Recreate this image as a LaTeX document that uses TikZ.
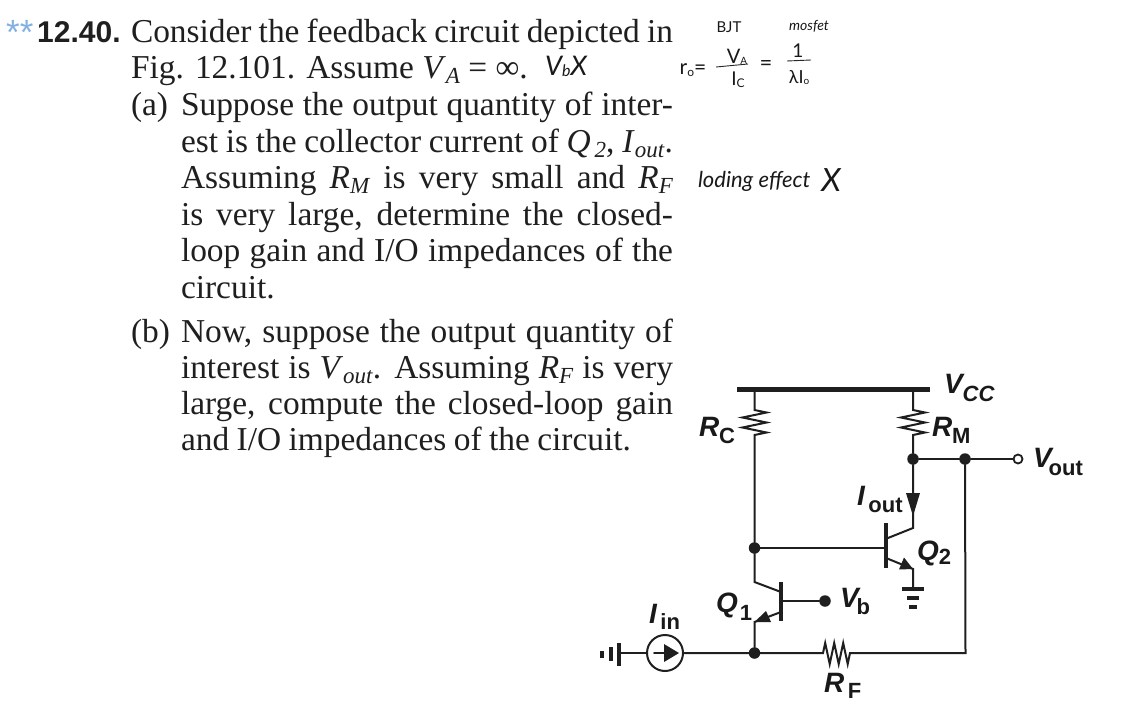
\documentclass[tikz,border=0pt]{standalone}
\usepackage{fontspec}
\setmainfont{Liberation Serif}
\setsansfont{Liberation Sans}
\newfontfamily\handfont{Lato}
\usetikzlibrary{arrows.meta}
\newcommand{\BodyLine}[5]{\node[bodytext] (#1) at (#2,#3) {\makebox[#4pt][s]{#5}};}
\newcommand{\Lab}[3][7pt]{{\fontsize{28}{28}\sffamily\bfseries\itshape #2}\raisebox{-#1}{\fontsize{22}{22}\sffamily\bfseries #3}}
\newcommand{\LabI}[3][8pt]{{\fontsize{28}{28}\sffamily\bfseries\itshape #2}\raisebox{-#1}{\fontsize{22}{22}\sffamily\bfseries\itshape #3}}
\newcommand{\Mi}[1]{\textit{#1}}
\newcommand{\Sb}[1]{\raisebox{-5pt}{\fontsize{23}{23}\selectfont\textit{#1}}}
\tikzset{
  x=1pt,y=-1pt,
  bodytext/.style={anchor=base west,inner sep=0pt,outer sep=0pt,font=\fontsize{33.4}{36}\selectfont,text=black!88},
  lab/.style={anchor=base west,inner sep=0pt,outer sep=0pt,text=black!90},
  hand/.style={anchor=center,inner sep=0pt,outer sep=0pt,text=black!90},
  wire/.style={draw=black!88,line width=2pt,line cap=round,line join=miter},
  thick bar/.style={draw=black!88,line width=3.8pt},
  dot/.style={circle,fill=black!88,draw=none,minimum size=11.5pt,inner sep=0pt,outer sep=0pt},
  hole/.style={circle,fill=white,draw=black!88,line width=1.8pt,minimum size=9pt,inner sep=0pt,outer sep=0pt},
}
\begin{document}
\begin{tikzpicture}
\useasboundingbox (0,0) rectangle (1141,712);
\fill[white] (0,0) rectangle (1141,712);
% ---- text
\node[anchor=base west,inner sep=0pt,text=cyan!60!blue!50!white] (stars) at (6,44) {\fontsize{35}{35}\sffamily **};
\node[anchor=base west,inner sep=0pt,text=black!88] (num) at (37,42) {\fontsize{30}{30}\sffamily\bfseries 12.40.};
\BodyLine{l1}{131}{42}{542}{Consider the feedback circuit depicted in}
\node[bodytext] (l2) at (131,78) {Fig. 12.101. Assume \Mi{V}\Sb{A} = ∞.};
\node[bodytext] (l3a) at (131,115) {(a)};
\BodyLine{l3}{181}{115}{492}{Suppose the output quantity of inter-}
\BodyLine{l4}{181}{152}{492}{est is the collector current of \Mi{Q}\Sb{\,2}, \Mi{I}\Sb{out}.}
\BodyLine{l5}{181}{188}{492}{Assuming \Mi{R}\Sb{M} is very small and \Mi{R}\Sb{F}}
\BodyLine{l6}{181}{225}{492}{is very large, determine the closed-}
\BodyLine{l7}{181}{261}{492}{loop gain and I/O impedances of the}
\node[bodytext] (l8) at (181,298) {circuit.};
\node[bodytext] (l9a) at (131,342) {(b)};
\BodyLine{l9}{181}{342}{492}{Now, suppose the output quantity of}
\BodyLine{l10}{181}{378}{492}{interest is \Mi{V}\Sb{out}. Assuming \Mi{R}\Sb{F} is very}
\BodyLine{l11}{181}{414}{492}{large, compute the closed-loop gain}
\BodyLine{l12}{181}{450}{450}{and I/O impedances of the circuit.}
% ---- handwriting
\node[hand] (h1) at (729,27) {\fontsize{15}{15}\handfont BJT};
\node[hand] (h2) at (809,26) {\fontsize{14}{14}\handfont\itshape mosfet};
\node[hand] (h3) at (693,70) {\fontsize{21}{21}\handfont r\raisebox{-2pt}{\fontsize{12}{12}\selectfont o}=};
\node[hand] (h4) at (737,57) {\fontsize{20}{20}\handfont V\raisebox{-1pt}{\fontsize{10}{10}\selectfont A}};
\node[hand] (h5) at (738,80) {\fontsize{19}{19}\handfont I\raisebox{-2pt}{\fontsize{12}{12}\selectfont C}};
\node[hand] (h6) at (766,65) {\fontsize{22}{22}\handfont =};
\node[hand] (h7) at (798,51) {\fontsize{19}{19}\handfont 1};
\node[hand] (h8) at (799,78) {\fontsize{18}{18}\handfont λI\raisebox{-1pt}{\fontsize{10}{10}\selectfont o}};
\draw[draw=black!85,line width=.9pt] (716,67) -- (748,64);
\draw[draw=black!85,line width=.9pt] (787,61) -- (811,60);
\node[hand] (h9) at (566,66) {\fontsize{27}{27}\handfont\itshape V\raisebox{-1pt}{\fontsize{16}{16}\selectfont b}X};
\node[hand,anchor=base west] (h10) at (698,187) {\fontsize{22}{22}\handfont\itshape loding effect};
\node[hand] (h11) at (831,180) {\fontsize{32}{32}\handfont\itshape X};
% ---- circuit nodes
\coordinate (railL) at (737,389.5);
\coordinate (railR) at (930,389.5);
\coordinate (rcT) at (754.5,389.5);
\coordinate (rmT) at (913,389.5);
\node[dot] (n1) at (913,459) {};
\node[dot] (n2) at (965,459) {};
\node[hole] (vo) at (1018,459) {};
\node[dot] (n3) at (754.5,548) {};
\node[dot] (n4) at (754.5,653) {};
\node[dot] (vbd) at (825,601) {};
\node[circle,draw=black!88,line width=2pt,minimum size=36pt,inner sep=0pt,outer sep=0pt,fill=white] (src) at (665,653) {};
\coordinate (q2b) at (886,548);
\coordinate (q2c) at (913,528);
\coordinate (q2e) at (913,569);
\coordinate (q1b) at (781,601);
\coordinate (gnd) at (913,589);
\coordinate (srcL) at (619,653);
\coordinate (rfL) at (823,653);
\coordinate (rfR) at (850,653);
\coordinate (corner) at (965.5,653);
% rail and supply resistors
\draw[thick bar,line width=4.6pt] (railL) -- (railR);
\draw[wire] (rcT) -- (754.5,410) -- ++(12,2.5) -- ++(-24,5) -- ++(24,5) -- ++(-24,5) -- ++(24,5) -- ++(-12,2.5) -- (n3);
\draw[wire] (rmT) -- (913,410) -- ++(12,2.5) -- ++(-24,5) -- ++(24,5) -- ++(-24,5) -- ++(24,5) -- ++(-12,2.5) -- (n1);
\draw[wire] (n1) -- (n2) -- (vo);
% Q2
\draw[wire] (n1) -- (q2c) -- (888,538);
\fill[black!88] (906,493) -- (920,493) -- (913,516) -- cycle;
\draw[thick bar] (886,523) -- (886,568);
\draw[wire] (n3) -- (q2b);
\draw[wire] (886,558) -- (q2e) -- (gnd);
\fill[black!88] (913,569) -- (899,569.5) -- (904,557.5) -- cycle;
\draw[thick bar] (902,589) -- (924,589);
\draw[thick bar] (907,598) -- (919,598);
\draw[thick bar] (909,607) -- (917,607);
% Q1
\draw[wire] (n3) -- (754.5,582) -- (781,592);
\draw[thick bar] (781,582) -- (781,621);
\draw[wire] (q1b) -- (vbd);
\draw[wire] (781,612) -- (754.5,622) -- (n4);
\fill[black!88] (754.5,622) -- (766,611) -- (771,622) -- cycle;
% feedback
\draw[wire] (src) -- (n4) -- (rfL) -- ++(2.2,-10) -- ++(4.5,21) -- ++(4.5,-21) -- ++(4.5,21) -- ++(4.5,-21) -- ++(4.5,21) -- (rfR) -- (corner) -- (n2);
% source
\draw[wire] (srcL) -- (src);
\draw[wire] (654,653) -- (668,653);
\fill[black!88] (664,644) -- (679,653) -- (664,662) -- cycle;
\draw[thick bar] (619,642.5) -- (619,665.5);
\draw[thick bar] (611,647) -- (611,661);
\draw[thick bar] (602,651) -- (602,658);
% labels
\node[lab] (lvcc) at (944,393) {\LabI{V}{CC}};
\node[lab] (lrm) at (932,436) {\Lab{R}{M}};
\node[lab] (lrc) at (699,436) {\Lab{R}{C}};
\node[lab] (lvo) at (1033,467) {\Lab[8pt]{V}{\kern-3pt out}};
\node[lab] (lio) at (857,505) {\Lab{I}{\,out}};
\node[lab] (lq2) at (917,560) {\Lab[4pt]{Q}{2}};
\node[lab] (lq1) at (716,612) {\Lab[8pt]{Q}{\kern2pt 1}};
\node[lab] (lvb) at (840,607) {\Lab{V}{\kern-2pt b}};
\node[lab] (lin) at (649,623) {\Lab[6pt]{I}{\,in}};
\node[lab] (lrf) at (824,692) {\Lab[6pt]{R}{\,F}};
\end{tikzpicture}
\end{document}
